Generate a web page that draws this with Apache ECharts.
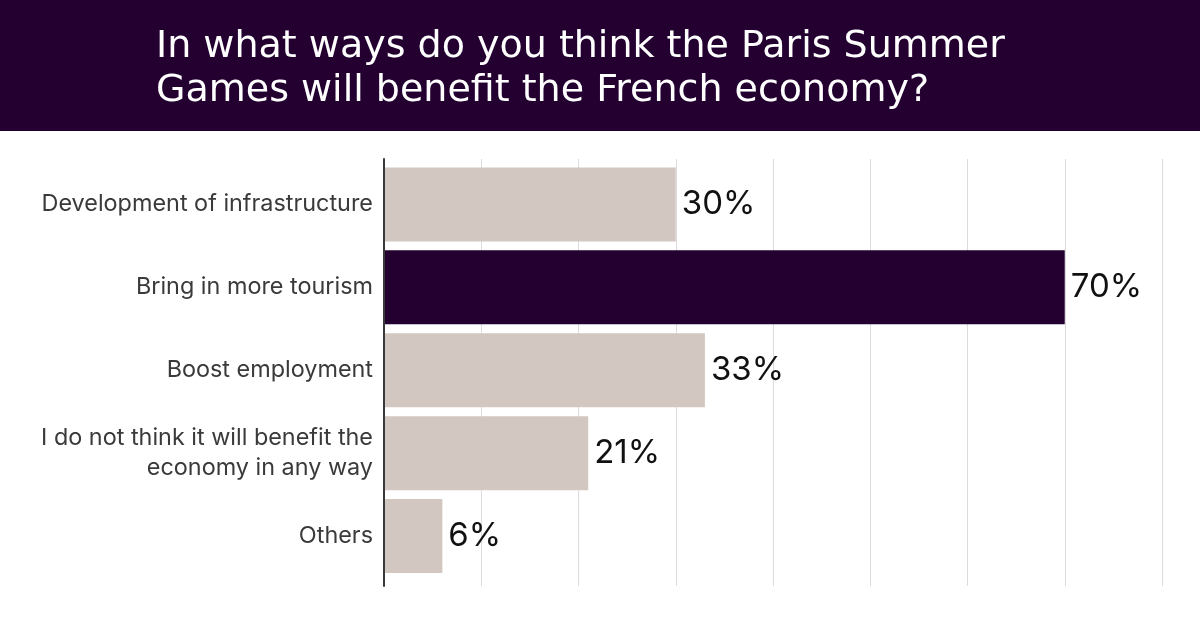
<!DOCTYPE html>
<html>
<head>
<meta charset="utf-8">
<script src="https://cdn.jsdelivr.net/npm/echarts@6/dist/echarts.min.js"></script>
<style>
html,body{margin:0;padding:0;background:#fff;}
#chart{width:1200px;height:627px;}
</style>
</head>
<body>
<div id="chart"></div>
<script>
const titleText = "In what ways do you think the Paris Summer\nGames will benefit the French economy?";
const categories = [
  "Development of infrastructure",
  "Bring in more tourism",
  "Boost employment",
  "I do not think it will benefit the\neconomy in any way",
  "Others"
];
const values = [30, 70, 33, 21, 6];
const highlighted = [false, true, false, false, false];
const xTicks = [0, 10, 20, 30, 40, 50, 60, 70, 80];

const DARK = "#230030";
const LIGHT = "#d3c7c1";

const chart = echarts.init(document.getElementById('chart'), null, {renderer: 'canvas'});
chart.setOption({
  backgroundColor: '#ffffff',
  animation: false,
  graphic: [{
    type: 'rect', left: 0, top: 0, z: -1,
    shape: {width: 1200, height: 131},
    style: {fill: DARK}
  }],
  title: {
    text: titleText,
    left: 151,
    top: 20,
    textStyle: {
      color: '#ffffff',
      fontFamily: 'DejaVu Sans',
      fontWeight: 'normal',
      fontSize: 38,
      lineHeight: 44
    }
  },
  grid: [
    {left: 384, right: 38, top: 163, height: 414.5, containLabel: false},
    {left: 384, right: 38, top: 159, height: 427, containLabel: false}
  ],
  xAxis: [{
    type: 'value',
    gridIndex: 0,
    min: xTicks[0],
    max: xTicks[xTicks.length - 1],
    interval: 10,
    axisLabel: {show: false},
    axisLine: {show: false},
    axisTick: {show: false},
    splitLine: {show: false}
  }, {
    type: 'value',
    gridIndex: 1,
    min: xTicks[0],
    max: xTicks[xTicks.length - 1],
    interval: 10,
    axisLabel: {show: false},
    axisLine: {show: false},
    axisTick: {show: false},
    splitLine: {show: true, lineStyle: {color: '#dcdcdc', width: 1}},
    z: 0
  }],
  yAxis: [{
    type: 'category',
    gridIndex: 0,
    data: categories,
    inverse: true,
    axisLine: {show: false},
    axisTick: {show: false},
    axisLabel: {
      color: '#3a3a3a',
      fontFamily: 'Inter',
      fontSize: 23.4,
      lineHeight: 30,
      margin: 11,
      align: 'right'
    }
  }, {
    type: 'value',
    gridIndex: 1,
    min: 0, max: 1,
    axisLine: {show: true, onZero: false, lineStyle: {color: '#3a3a3a', width: 2}},
    axisTick: {show: false},
    axisLabel: {show: false},
    splitLine: {show: false},
    z: 10
  }],
  series: [{
    type: 'bar',
    xAxisIndex: 0,
    yAxisIndex: 0,
    data: values.map((v, i) => ({
      value: v,
      itemStyle: {color: highlighted[i] ? DARK : LIGHT}
    })),
    barCategoryGap: '10.7%',
    label: {
      show: true,
      position: 'right',
      distance: 6,
      formatter: '{c}%',
      color: '#111111',
      fontFamily: 'Inter',
      fontSize: 33
    }
  }]
});
</script>
</body>
</html>
